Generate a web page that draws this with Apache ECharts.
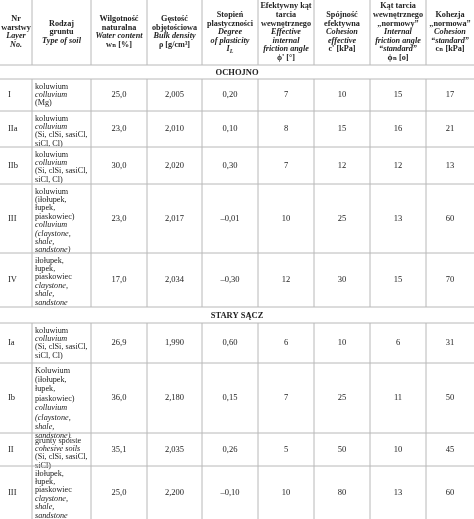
<!DOCTYPE html><html><head><meta charset="utf-8">
<script src="https://cdn.jsdelivr.net/npm/echarts@6/dist/echarts.min.js"></script>
<style>html,body{margin:0;padding:0;background:#fff}#c{width:474px;height:519px}</style></head><body><div id="c"></div>
<script>
// '*' prefix = italic line
const headers = [
 ["Nr","warstwy","*Layer","*No."],
 ["Rodzaj","gruntu","*Type of soil"],
 ["Wilgotność","naturalna","*Water content","wₙ [%]"],
 ["Gęstość","objętościowa","*Bulk density","ρ [g/cm³]"],
 ["Stopień","plastyczności","*Degree","*of plasticity","*IL"],
 ["Efektywny kąt","tarcia","wewnętrznego","*Effective","*internal","*friction angle","ϕ' [°]"],
 ["Spójność","efektywna","*Cohesion","*effective","c' [kPa]"],
 ["Kąt tarcia","wewnętrznego","„normowy”","*Internal","*friction angle","*“standard”","ϕₙ [o]"],
 ["Kohezja","„normowa”","*Cohesion","*“standard”","cₙ [kPa]"]
];
const groups = ["OCHOJNO","STARY SĄCZ"];
const layerNo = [["I","IIa","IIb","III","IV"],["Ia","Ib","II","III"]];
const soilType = [
 [["koluwium","*colluvium","(Mg)"],
  ["koluwium","*colluvium","(Si, clSi, sasiCl,","siCl, Cl)"],
  ["koluwium","*colluvium","(Si, clSi, sasiCl,","siCl, Cl)"],
  ["koluwium","(iłołupek,","łupek,","piaskowiec)","*colluvium","*(claystone,","*shale,","*sandstone)"],
  ["iłołupek,","łupek,","piaskowiec","*claystone,","*shale,","*sandstone"]],
 [["koluwium","*colluvium","(Si, clSi, sasiCl,","siCl, Cl)"],
  ["Koluwium","(iłołupek,","łupek,","piaskowiec)","*colluvium","*(claystone,","*shale,","*sandstone)"],
  ["grunty spoiste","*cohesive soils","(Si, clSi, sasiCl,","siCl)"],
  ["iłołupek,","łupek,","piaskowiec","*claystone,","*shale,","*sandstone"]]
];
const waterContent = [["25,0","23,0","30,0","23,0","17,0"],["26,9","36,0","35,1","25,0"]];
const bulkDensity = [["2,005","2,010","2,020","2,017","2,034"],["1,990","2,180","2,035","2,200"]];
const plasticity = [["0,20","0,10","0,30","–0,01","–0,30"],["0,60","0,15","0,26","–0,10"]];
const frictionEff = [[7,8,7,10,12],[6,7,5,10]];
const cohesionEff = [[10,15,12,25,30],[10,25,50,80]];
const frictionStd = [[15,16,12,13,15],[6,11,10,13]];
const cohesionStd = [[17,21,13,60,70],[31,50,45,60]];

const colX = [0,32,91,147,202,258,314,370,426,474];
const headBottom = 65;
const groupRowY = [[65,79],[307,323]];
const rowY = [[79,111,147,184,253,307],[323,363,433,466,540]];
const FONT = '"Liberation Serif","DejaVu Serif",serif';
const LC = '#b8b8b8';
const g = [];
function line(x1,y1,x2,y2){g.push({type:'line',shape:{x1,y1,x2,y2},style:{stroke:LC,lineWidth:1}});}
function txt(s,x,y,opt){
  let italic=false; if(s[0]==='*'){italic=true;s=s.slice(1);}
  const font=(italic?'italic ':'')+(opt.bold?'bold ':'')+opt.size+'px '+FONT;
  const st={text:s,font,fill:'#222',align:opt.align||'center',verticalAlign:'middle'};
  if(s==='IL'){st.text='{a|I}{b|L}';st.rich={a:{font},b:{font:(italic?'italic ':'')+'bold 6px '+FONT,padding:[4,0,0,0]}};}
  g.push({type:'text',x,y,style:st});
}
headers.forEach((h,i)=>{
  const cx=(colX[i]+colX[i+1])/2, lh=8.6, y0=32-(h.length-1)*lh/2;
  h.forEach((s,k)=>txt(s,cx,y0+k*lh,{bold:true,size:8.2}));
});
line(0,headBottom,474,headBottom);
groups.forEach((name,gi)=>{
  const [a,b]=groupRowY[gi];
  txt(name,237,(a+b)/2+1,{bold:true,size:8.5});
  line(0,b,474,b);
  const rys=rowY[gi];
  const vals=[waterContent[gi],bulkDensity[gi],plasticity[gi],frictionEff[gi],cohesionEff[gi],frictionStd[gi],cohesionStd[gi]];
  layerNo[gi].forEach((ln,r)=>{
    const top=rys[r],bot=rys[r+1];
    const midv=(gi===1&&r===3)?493:(top+bot)/2;
    const lh=(gi===1&&r===1)?9.4:8.4;
    txt(ln,8,midv,{size:8.5,align:'left'});
    soilType[gi][r].forEach((s,k)=>txt(s,35,top+7.5+k*lh,{size:8.2,align:'left'}));
    vals.forEach((arr,c)=>txt(String(arr[r]),(colX[c+2]+colX[c+3])/2,midv,{size:8.5}));
    line(0,bot,474,bot);
    for(let c=1;c<colX.length-1;c++) line(colX[c],top,colX[c],bot);
  });
});
for(let c=1;c<colX.length-1;c++) line(colX[c],0,colX[c],headBottom);
const chart=echarts.init(document.getElementById('c'));
chart.setOption({animation:false,graphic:g});
</script></body></html>
